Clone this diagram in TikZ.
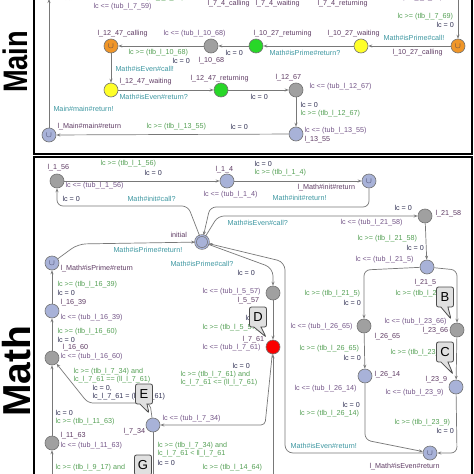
\documentclass[tikz,border=0pt]{standalone}
\usepackage{fontspec}
\setmainfont{Liberation Sans}
\usetikzlibrary{arrows.meta,shapes.callouts}
\definecolor{locgray}{RGB}{160,160,160}
\definecolor{locblue}{RGB}{168,178,216}
\definecolor{locorange}{RGB}{240,150,40}
\definecolor{locyellow}{RGB}{255,255,40}
\definecolor{locgreen}{RGB}{40,215,40}
\definecolor{locred}{RGB}{250,0,0}
\definecolor{namec}{RGB}{95,60,100}
\definecolor{invc}{RGB}{115,85,135}
\definecolor{grdc}{RGB}{85,160,85}
\definecolor{asgc}{RGB}{50,50,85}
\definecolor{sync}{RGB}{60,150,160}
\definecolor{edgec}{RGB}{120,120,120}
\newcommand\lblfont{\fontsize{7.2}{8}\selectfont}
\newcommand\umark{{\footnotesize\color{asgc}$\cup$}}
\tikzset{
	loc/.style={circle,draw=black!55,line width=0.6pt,minimum size=14pt,inner sep=0pt},
	gloc/.style={loc,fill=locgray},
	bloc/.style={loc,fill=locblue},
	oloc/.style={loc,fill=locorange},
	yloc/.style={loc,fill=locyellow},
	grloc/.style={loc,fill=locgreen},
	rloc/.style={loc,fill=locred},
	edge/.style={draw=edgec,line width=0.7pt,-{Stealth[length=4pt,width=3pt]}},
	edgeline/.style={draw=edgec,line width=0.7pt},
	lbl/.style={anchor=west,inner sep=0.3pt,font=\lblfont},
	nm/.style={lbl,text=namec},
	inv/.style={lbl,text=invc},
	grd/.style={lbl,text=grdc},
	asg/.style={lbl,text=asgc},
	syn/.style={lbl,text=sync},
	callbox/.style={rectangle callout,draw=black!70,line width=0.8pt,fill=black!12,rounded corners=2pt,
		minimum width=17pt,minimum height=20pt,inner sep=1pt,font=\fontsize{13}{13}\selectfont}
}
\begin{document}
\begin{tikzpicture}[x=1pt,y=-1pt]
	\useasboundingbox (0,0) rectangle (474,474);

	% frames
	\draw[line width=2pt] (34,-5) rectangle (472,154);
	\draw[line width=2pt] (34,157) rectangle (472,480);
	\node[rotate=90,inner sep=0pt] (mainlbl) at (15,62) {\scalebox{0.8}[1]{\fontsize{34}{34}\selectfont\bfseries Main}};
	\node[rotate=90,inner sep=0pt] (mathlbl) at (17,371) {\fontsize{39}{39}\selectfont\bfseries Math};

	% Main locations
	\node[bloc] (mret) at (49,135) {\umark};
	\node[oloc] (o1) at (458,46) {\umark};
	\node[yloc] (y1) at (361,46) {};
	\node[grloc] (g1) at (256,46) {};
	\node[gloc] (a1) at (211,46) {};
	\node[oloc] (o2) at (111,46) {\umark};
	\node[yloc] (y2) at (111,90) {};
	\node[grloc] (g2) at (221,90) {};
	\node[gloc] (a2) at (296,90) {};
	\node[bloc] (b1) at (296,134) {};
	\coordinate (mtop) at (49,-1);
	\coordinate (rtop) at (458,-5);

	% Main edges
	\draw[edge] (mret) -- (mtop);
	\draw[edge] (rtop) -- (o1);
	\draw[edge] (o1) -- (y1);
	\draw[edge] (y1) -- (g1);
	\draw[edge] (g1) -- (a1);
	\draw[edge] (a1) -- (o2);
	\draw[edge] (o2) -- (y2);
	\draw[edge] (y2) -- (g2);
	\draw[edge] (g2) -- (a2);
	\draw[edge] (a2) -- (b1);
	\draw[edge] (b1) -- (mret);

	% Main labels
	\node[nm] (t1) at (57,-2) {initial};
	\node[asg] (t2) at (93,-2) {lc = 0};
	\node[grd] (t3) at (128,-2) {lc >= (tlb\_l\_7\_59)};
	\node[inv] (t4) at (93,7) {lc <= (tub\_l\_7\_59)};
	\node[nm] (t5) at (207,4) {l\_7\_4\_calling};
	\node[nm] (t6) at (255,4) {l\_7\_4\_waiting};
	\node[nm] (t7) at (317,4) {l\_7\_4\_returning};
	\node[inv] (t8) at (384,-2) {lc <= (tub\_l\_7\_69)};
	\node[grd] (t9) at (397,17) {lc >= (tlb\_l\_7\_69)};
	\node[asg] (t10) at (436,25) {lc = 0};
	\node[syn] (t11) at (383,38) {Math\#isPrime\#call!};
	\node[nm] (t12) at (392,53) {l\_10\_27\_calling};
	\node[nm] (t13) at (327,34) {l\_10\_27\_waiting};
	\node[syn] (t14) at (269,53) {Math\#isPrime\#return?};
	\node[nm] (t15) at (253,34) {l\_10\_27\_returning};
	\node[asg] (t16) at (225,53) {lc = 0};
	\node[inv] (t17) at (163,34) {lc <= (tub\_l\_10\_68)};
	\node[grd] (t18) at (128,53) {lc >= (tlb\_l\_10\_68)};
	\node[asg] (t19) at (172,61) {lc = 0};
	\node[nm] (t20) at (198,61) {l\_10\_68};
	\node[nm] (t21) at (97,34) {l\_12\_47\_calling};
	\node[syn] (t22) at (115,69) {Math\#isEven\#call!};
	\node[nm] (t23) at (119,82) {l\_12\_47\_waiting};
	\node[syn] (t24) at (119,97) {Math\#isEven\#return?};
	\node[nm] (t25) at (190,79) {l\_12\_47\_returning};
	\node[asg] (t26) at (250,97) {lc = 0};
	\node[nm] (t27) at (275,78) {l\_12\_67};
	\node[inv] (t28) at (309,87) {lc <= (tub\_l\_12\_67)};
	\node[asg] (t29) at (300,105) {lc = 0};
	\node[grd] (t30) at (300,114) {lc >= (tlb\_l\_12\_67)};
	\node[inv] (t31) at (304,131) {lc <= (tub\_l\_13\_55)};
	\node[nm] (t32) at (304,140) {l\_13\_55};
	\node[asg] (t33) at (230,127) {lc = 0};
	\node[grd] (t34) at (146,127) {lc >= (tlb\_l\_13\_55)};
	\node[nm] (t35) at (57,127) {l\_Main\#main\#return};
	\node[syn] (t36) at (53,109) {Main\#main\#return!};

	% Math locations
	\node[gloc] (n156) at (57,181) {};
	\node[bloc] (n14) at (227,181) {};
	\node[bloc] (ninitret) at (369,181) {\umark};
	\node[bloc,double=locblue,draw=black!55,double distance=1.2pt,minimum size=13pt] (init) at (202,242) {};
	\node[gloc] (n2158) at (425,216) {};
	\node[bloc] (n215) at (427,267) {};
	\node[gloc] (n2665) at (364,326) {};
	\node[gloc] (n2366) at (457,330) {};
	\node[bloc] (n2614) at (365,376) {};
	\node[bloc] (n239) at (456,387) {};
	\node[bloc] (nevret) at (430,453) {\umark};
	\node[gloc] (n557) at (273,293) {};
	\node[rloc] (n761) at (273,347) {};
	\node[bloc] (n734) at (153,425) {};
	\node[bloc] (nprret) at (52,263) {\umark};
	\node[bloc] (n1639) at (52,311) {};
	\node[gloc] (n1660) at (52,358) {};
	\node[gloc] (n1163) at (52,443) {};
	\coordinate (bot1) at (273,480);
	\coordinate (bot2) at (153,480);
	\coordinate (bot3) at (52,480);

	% Math edges
	\draw[edge] (n156) -- (n14);
	\draw[edge] (n14) -- (ninitret);
	\draw[edge,rounded corners=6pt] (ninitret) -- (369,207) -- (210,207) -- (init);
	\draw[edge,rounded corners=6pt] (init) -- (188,206) -- (57,206) -- (n156);
	\draw[edge,rounded corners=6pt] (init) -- (218,216) -- (n2158);
	\draw[edge,rounded corners=8pt] (init) -- (273,268) -- (n557);
	\draw[edge,rounded corners=8pt] (nevret) -- (285,453) -- (285,262) -- (init);
	\draw[edge,rounded corners=8pt] (nprret) -- (78,244) -- (init);
	\draw[edge] (n2158) -- (n215);
	\draw[edge,rounded corners=6pt] (n215) -- (364,270) -- (n2665);
	\draw[edge,rounded corners=6pt] (n215) -- (457,270) -- (n2366);
	\draw[edge] (n2665) -- (n2614);
	\draw[edge] (n2366) -- (n239);
	\draw[edge,rounded corners=6pt] (n2614) -- (365,440) -- (nevret);
	\draw[edge,rounded corners=6pt] (n239) -- (457,453) -- (nevret);
	\draw[edge] (n557) -- (n761);
	\draw[edge] (bot1) -- (n761);
	\draw[edge,rounded corners=4pt] (n761) -- (265,425) -- (n734);
	\draw[edge,rounded corners=5pt] (n734) -- (150,403) -- (88,403) -- (n1660);
	\draw[edgeline] (n734) -- (bot2);
	\draw[edge] (bot3) -- (n1163);
	\draw[edge] (n1163) -- (n1660);
	\draw[edge] (n1660) -- (n1639);
	\draw[edge] (n1639) -- (nprret);

	% Math labels
	\node[nm] (u1) at (47,168) {l\_1\_56};
	\node[grd] (u2) at (100,164) {lc >= (tlb\_l\_1\_56)};
	\node[asg] (u3) at (144,173) {lc = 0};
	\node[inv] (u4) at (65,186) {lc <= (tub\_l\_1\_56)};
	\node[asg] (u5) at (62,199) {lc = 0};
	\node[syn] (u6) at (127,199) {Math\#init\#call?};
	\node[nm] (u7) at (215,170) {l\_1\_4};
	\node[inv] (u8) at (203,195) {lc <= (tub\_l\_1\_4)};
	\node[asg] (u9) at (254,164) {lc = 0};
	\node[grd] (u10) at (254,173) {lc >= (tlb\_l\_1\_4)};
	\node[nm] (u11) at (297,188) {l\_Math\#init\#return};
	\node[syn] (u12) at (272,198) {Math\#init\#return!};
	\node[nm] (u13) at (170,235) {initial};
	\node[syn] (u14) at (113,250) {Math\#isPrime\#return!};
	\node[syn] (u15) at (170,264) {Math\#isPrime\#call?};
	\node[nm] (u16) at (60,269) {l\_Math\#isPrime\#return};
	\node[syn] (u17) at (227,223) {Math\#isEven\#call?};
	\node[asg] (u18) at (394,208) {lc = 0};
	\node[nm] (u19) at (435,214) {l\_21\_58};
	\node[inv] (u20) at (340,223) {lc <= (tub\_l\_21\_58)};
	\node[grd] (u21) at (357,239) {lc >= (tlb\_l\_21\_58)};
	\node[asg] (u22) at (406,248) {lc = 0};
	\node[inv] (u23) at (355,260) {lc <= (tub\_l\_21\_5)};
	\node[nm] (u24) at (414,283) {l\_21\_5};
	\node[grd] (u25) at (304,294) {lc >= (tlb\_l\_21\_5)};
	\node[asg] (u26) at (343,303) {lc = 0};
	\node[grd] (u27) at (395,294) {lc >= (tlb\_l\_21\_5)};
	\node[inv] (u28) at (290,327) {lc <= (tub\_l\_26\_65)};
	\node[nm] (u29) at (374,337) {l\_26\_65};
	\node[inv] (u30) at (384,322) {lc <= (tub\_l\_23\_66)};
	\node[nm] (u31) at (422,331) {l\_23\_66};
	\node[grd] (u32) at (299,349) {lc >= (tlb\_l\_26\_65)};
	\node[asg] (u33) at (343,358) {lc = 0};
	\node[grd] (u34) at (390,353) {lc >= (tlb\_l\_23\_66)};
	\node[nm] (u35) at (374,375) {l\_26\_14};
	\node[inv] (u36) at (294,389) {lc <= (tub\_l\_26\_14)};
	\node[asg] (u37) at (342,405) {lc = 0};
	\node[grd] (u38) at (299,414) {lc >= (tlb\_l\_26\_14)};
	\node[nm] (u39) at (425,380) {l\_23\_9};
	\node[inv] (u40) at (385,393) {lc <= (tub\_l\_23\_9)};
	\node[grd] (u41) at (394,423) {lc >= (tlb\_l\_23\_9)};
	\node[asg] (u42) at (436,431) {lc = 0};
	\node[nm] (u43) at (369,467) {l\_Math\#isEven\#return};
	\node[syn] (u44) at (290,446) {Math\#isEven\#return!};
	\node[asg] (u45) at (237,273) {lc = 0};
	\node[inv] (u46) at (202,292) {lc <= (tub\_l\_5\_57)};
	\node[nm] (u47) at (237,301) {l\_5\_57};
	\node[asg] (u48) at (245,318) {lc = 0};
	\node[grd] (u49) at (202,328) {lc >= (tlb\_l\_5\_57)};
	\node[nm] (u50) at (242,340) {l\_7\_61};
	\node[inv] (u51) at (202,348) {lc <= (tub\_l\_7\_61)};
	\node[asg] (u52) at (232,366) {lc = 0};
	\node[grd] (u53) at (180,375) {lc >= (tlb\_l\_7\_61) and};
	\node[grd] (u54) at (180,383) {lc\_l\_7\_61 <= (ll\_l\_7\_61)};
	\node[inv] (u55) at (162,419) {lc <= (tub\_l\_7\_34)};
	\node[nm] (u56) at (123,432) {l\_7\_34};
	\node[grd] (u57) at (157,446) {lc >= (tlb\_l\_7\_34) and};
	\node[grd] (u58) at (157,454) {lc\_l\_7\_61 < ll\_l\_7\_61};
	\node[asg] (u59) at (157,463) {lc = 0};
	\node[grd] (u60) at (202,468) {lc >= (tlb\_l\_14\_64)};
	\node[grd] (u61) at (73,372) {lc >= (tlb\_l\_7\_34) and};
	\node[grd] (u62) at (73,380) {lc\_l\_7\_61 == (ll\_l\_7\_61)};
	\node[asg] (u63) at (92,388) {lc = 0,};
	\node[asg] (u64) at (92,397) {lc\_l\_7\_61 = (ll\_l\_7\_61)};
	\node[grd] (u65) at (57,285) {lc >= (tlb\_l\_16\_39)};
	\node[asg] (u66) at (57,293) {lc = 0};
	\node[nm] (u67) at (60,303) {l\_16\_39};
	\node[inv] (u68) at (60,318) {lc <= (tub\_l\_16\_39)};
	\node[grd] (u69) at (57,332) {lc >= (tlb\_l\_16\_60)};
	\node[asg] (u70) at (57,340) {lc = 0};
	\node[nm] (u71) at (62,348) {l\_16\_60};
	\node[inv] (u72) at (60,357) {lc <= (tub\_l\_16\_60)};
	\node[asg] (u73) at (55,413) {lc = 0};
	\node[grd] (u74) at (55,422) {lc >= (tlb\_l\_11\_63)};
	\node[nm] (u75) at (60,436) {l\_11\_63};
	\node[inv] (u76) at (60,446) {lc <= (tub\_l\_11\_63)};
	\node[grd] (u77) at (55,468) {lc >= (tlb\_l\_9\_17) and};

	% callouts
	\node[callbox,callout absolute pointer={(451,319)}] (cB) at (445,297) {B};
	\node[callbox,callout absolute pointer={(453,374)}] (cC) at (445,352) {C};
	\node[callbox,callout absolute pointer={(266,337)}] (cD) at (258,317) {D};
	\node[callbox,callout absolute pointer={(149,413)}] (cE) at (144,394) {E};
	\node[callbox,callout absolute pointer={(148,490)}] (cG) at (143,465) {G};
\end{tikzpicture}
\end{document}
